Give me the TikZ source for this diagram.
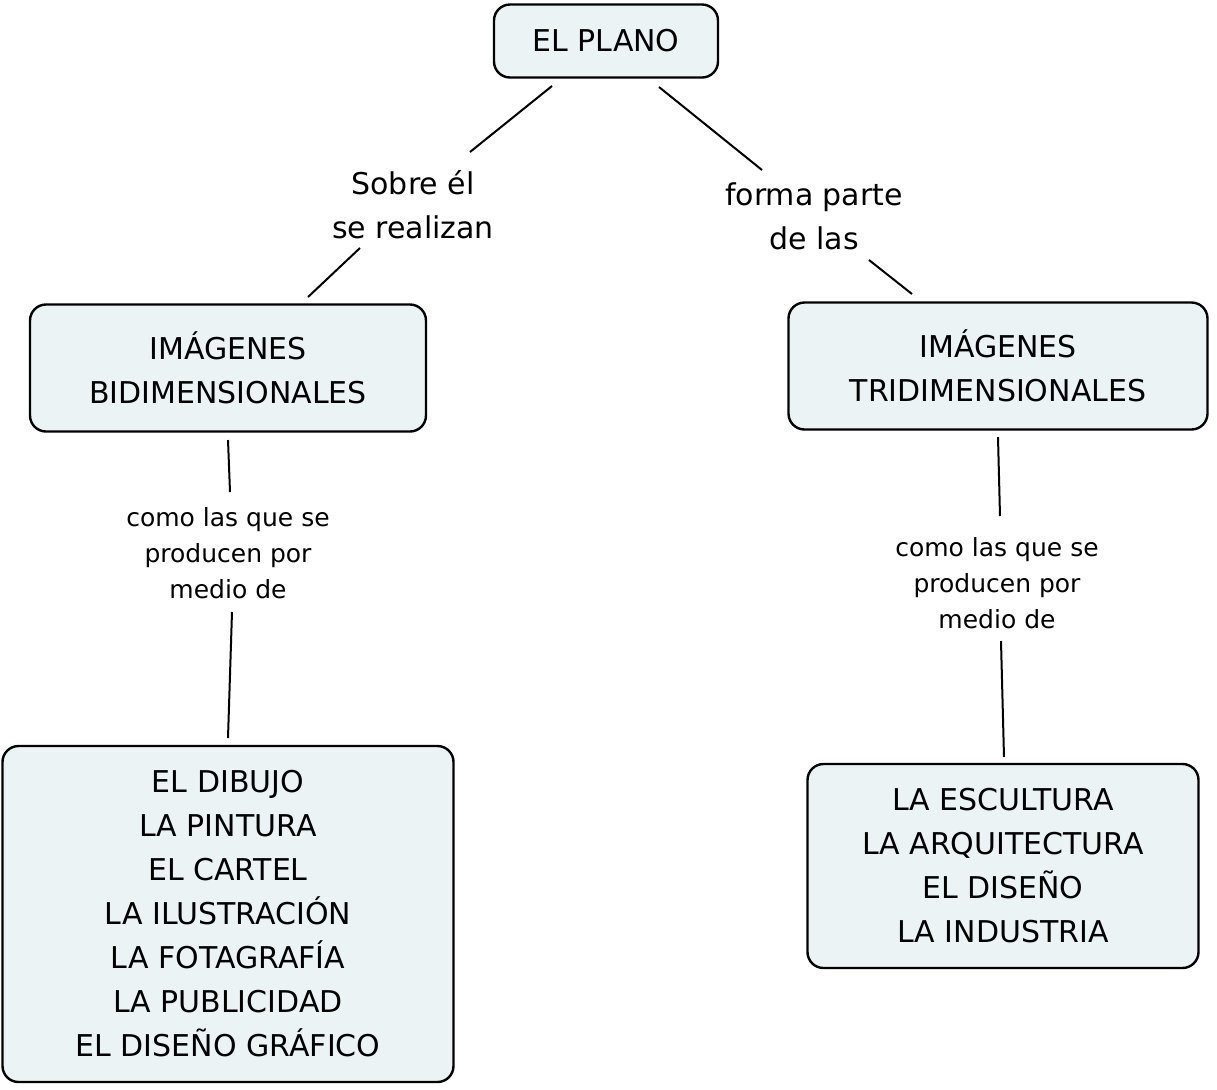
\documentclass[tikz,border=0pt]{standalone}
\usepackage{fontspec}
\setmainfont{DejaVu Sans}
\definecolor{boxfill}{HTML}{EBF3F5}
\begin{document}
\begin{tikzpicture}[x=0.5pt,y=-0.5pt,
  cbox/.style={draw=black,fill=boxfill,line width=1.2pt,rounded corners=8pt,align=center,font=\fontsize{15}{22}\selectfont,inner sep=0pt},
  lab/.style={align=center,font=\fontsize{15}{22}\selectfont,inner sep=3pt},
  slab/.style={align=center,font=\fontsize{12.5}{18}\selectfont,inner sep=4pt},
  conn/.style={line width=1pt}]
\useasboundingbox (0,0) rectangle (1217,1089);
\node[cbox,minimum width=224pt*0.5,minimum height=73pt*0.5] (plano) at (606,41) {EL PLANO};
\node[cbox,minimum width=396pt*0.5,minimum height=127pt*0.5] (bi) at (228,368) {IMÁGENES\\BIDIMENSIONALES};
\node[cbox,minimum width=419pt*0.5,minimum height=127pt*0.5] (tri) at (998,366) {IMÁGENES\\TRIDIMENSIONALES};
\node[cbox,minimum width=451pt*0.5,minimum height=336pt*0.5] (bl) at (228,914) {EL DIBUJO\\LA PINTURA\\EL CARTEL\\LA ILUSTRACIÓN\\LA FOTAGRAFÍA\\LA PUBLICIDAD\\EL DISEÑO GRÁFICO};
\node[cbox,minimum width=391pt*0.5,minimum height=204pt*0.5] (br) at (1003,866) {LA ESCULTURA\\LA ARQUITECTURA\\EL DISEÑO\\LA INDUSTRIA};
\node[lab] (l1) at (413,205) {Sobre él\\ se realizan};
\node[lab] (l2) at (814,216) {forma parte\\de las};
\node[slab] (l3) at (228,553) {como las que se\\ producen por\\medio de};
\node[slab] (l4) at (997,583) {como las que se\\producen por\\ medio de};
\draw[conn] (552,86) -- (470,152);
\draw[conn] (360,248) -- (308,297);
\draw[conn] (659,87) -- (762,170);
\draw[conn] (869,260) -- (912,294);
\draw[conn] (228,440) -- (230,492);
\draw[conn] (232,612) -- (228,738);
\draw[conn] (998,437) -- (1000,516);
\draw[conn] (1001,641) -- (1004,757);
\end{tikzpicture}
\end{document}
